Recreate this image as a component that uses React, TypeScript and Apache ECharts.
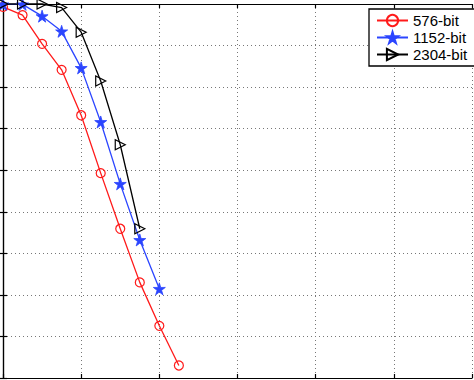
import React, { useEffect, useRef } from "react";
import * as echarts from "echarts";

const snr = [0, 0.125, 0.25, 0.375, 0.5, 0.625, 0.75, 0.875, 1.0, 1.125];
const series576 = [0.85, 0.54, 0.11, 2.6e-2, 2.1e-3, 8.5e-5, 3.9e-6, 2.0e-7, 1.8e-8, 2.0e-9];
const series1152 = [0.98, 0.98, 0.51, 0.22, 2.9e-2, 1.45e-3, 4.7e-5, 2.1e-6, 1.4e-7];
const series2304 = [1.0, 1.0, 1.0, 0.82, 0.21, 1.4e-2, 4.1e-4, 3.9e-6];
const names = ["576-bit", "1152-bit", "2304-bit"];

const STAR = "path://M50,0 L61,35 L98,35 L68,57 L79,91 L50,70 L21,91 L32,57 L2,35 L39,35 Z";

function pairs(vals: number[]) {
  return vals.map((v, i) => [snr[i], v]);
}

export default function App() {
  const ref = useRef<HTMLDivElement>(null);
  useEffect(() => {
    if (!ref.current) return;
    const chart = echarts.init(ref.current, undefined, { renderer: "svg" });
    const axisLine = { show: true, lineStyle: { color: "#000", width: 1.2 } };
    const split = { show: true, lineStyle: { color: "#777", type: [1, 3] as any, width: 1 } };
    const tick = { show: true, inside: true, length: 4, lineStyle: { color: "#000", width: 1.2 } };
    const xBase = {
      type: "value" as const,
      min: 0,
      max: 3,
      interval: 0.5,
      axisLine,
      axisTick: tick,
      axisLabel: { show: false },
    };
    const yBase = {
      type: "log" as const,
      logBase: 10,
      min: 1e-9,
      max: 1,
      interval: 1,
      axisLine,
      axisTick: tick,
      axisLabel: { show: false },
    };
    const mk = (name: string, data: number[], color: string, symbol: string, size: number, filled: boolean, rotate = 0) => ({
      name,
      type: "line" as const,
      data: pairs(data),
      symbol,
      symbolSize: size,
      symbolRotate: rotate,
      showAllSymbol: true,
      clip: false,
      lineStyle: { color, width: 1.3 },
      itemStyle: {
        color: filled ? color : "rgba(255,255,255,0)",
        borderColor: color,
        borderWidth: filled ? 0.8 : 1.2,
      },
      xAxisIndex: 0,
      yAxisIndex: 0,
    });
    chart.setOption({
      animation: false,
      backgroundColor: "#fff",
      grid: { left: 3, top: 4, right: 2, bottom: 2, containLabel: false },
      xAxis: [
        { ...xBase, position: "bottom", splitLine: split },
        { ...xBase, position: "top", splitLine: { show: false } },
      ],
      yAxis: [
        { ...yBase, position: "left", splitLine: split },
        { ...yBase, position: "right", splitLine: { show: false } },
      ],
      legend: {
        orient: "vertical",
        left: 369,
        top: 9,
        padding: [4, 8, 4, 7],
        itemGap: 2,
        itemWidth: 31,
        itemHeight: 14,
        backgroundColor: "#fff",
        borderColor: "#000",
        borderWidth: 1.3,
        borderRadius: 0,
        textStyle: { fontFamily: "Liberation Sans", fontSize: 15, color: "#000" },
        data: names,
      },
      series: [
        mk(names[0], series576, "#ff1a1a", "circle", 9, false),
        mk(names[1], series1152, "#2b45ff", STAR, 12, true),
        mk(names[2], series2304, "#000000", "triangle", 10, false, -90),
      ],
    });
    return () => chart.dispose();
  }, []);
  return (
    <div
      ref={ref}
      style={{ position: "absolute", left: 0, top: 0, width: 474, height: 380 }}
    />
  );
}
